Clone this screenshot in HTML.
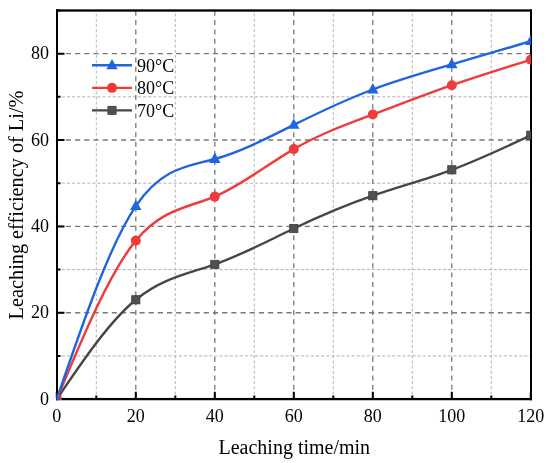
<!DOCTYPE html>
<html><head><meta charset="utf-8"><title>Leaching efficiency chart</title>
<style>html,body{margin:0;padding:0;background:#fff;width:550px;height:463px;overflow:hidden}svg{display:block}</style>
</head><body>
<svg width="550" height="463" viewBox="0 0 550 463">
<defs><clipPath id="pc"><rect x="56.8" y="10.5" width="474.1" height="389.5"/></clipPath></defs>
<rect width="550" height="463" fill="#fff"/>
<path d="M96.30,399.6V11 M175.30,399.6V11 M254.30,399.6V11 M333.30,399.6V11 M412.30,399.6V11 M491.30,399.6V11" stroke="#b4b4b4" stroke-width="1" stroke-dasharray="2.9 2.276" fill="none"/>
<path d="M56.7,355.92H530 M56.7,269.56H530 M56.7,183.20H530 M56.7,96.84H530" stroke="#b4b4b4" stroke-width="1" stroke-dasharray="3.2 1.883" fill="none"/>
<path d="M135.80,399.1V11 M214.80,399.1V11 M293.80,399.1V11 M372.80,399.1V11 M451.80,399.1V11" stroke="#787878" stroke-width="1.3" stroke-dasharray="5.0 4.35" fill="none"/>
<path d="M56.7,312.74H530 M56.7,226.38H530 M56.7,140.02H530 M56.7,53.66H530" stroke="#787878" stroke-width="1.3" stroke-dasharray="5.15 4.04" fill="none"/>
<path d="M56.80,398V391.8 M135.80,398V391.8 M214.80,398V391.8 M293.80,398V391.8 M372.80,398V391.8 M451.80,398V391.8 M530.80,398V391.8 M96.30,398V395.5 M175.30,398V395.5 M254.30,398V395.5 M333.30,398V395.5 M412.30,398V395.5 M491.30,398V395.5 M58,399.10H64.5 M58,312.74H64.5 M58,226.38H64.5 M58,140.02H64.5 M58,53.66H64.5 M58,355.92H60.5 M58,269.56H60.5 M58,183.20H60.5 M58,96.84H60.5 M58,10.48H60.5" stroke="#000" stroke-width="2" fill="none"/>
<g fill="#000"><rect x="56" y="9.35" width="476" height="2.3"/><rect x="56" y="397.95" width="476" height="2.3"/><rect x="56" y="9.35" width="2" height="390.9"/><rect x="530" y="9.35" width="2" height="390.9"/></g>
<g clip-path="url(#pc)" fill="none" stroke-width="2.4" stroke-linejoin="round">
<path d="M56.80,399.10 C83.13,360.27 109.47,321.45 135.80,299.79 C162.13,278.13 188.47,273.63 214.80,264.38 C241.13,255.13 267.47,241.11 293.80,228.54 C320.13,215.96 346.47,204.83 372.80,195.72 C399.13,186.62 425.47,179.55 451.80,169.81 C478.13,160.08 504.47,147.67 530.80,135.27" stroke="#464646"/>
<path d="M56.80,399.10 C83.13,335.90 109.47,272.70 135.80,240.63 C162.13,208.56 188.47,207.63 214.80,196.59 C241.13,185.54 267.47,164.37 293.80,149.09 C320.13,133.80 346.47,124.40 372.80,114.54 C399.13,104.69 425.47,94.40 451.80,85.18 C478.13,75.97 504.47,67.84 530.80,59.71" stroke="#ef3b3b"/>
<path d="M56.80,399.10 C83.13,322.06 109.47,245.02 135.80,206.09 C162.13,167.15 188.47,166.31 214.80,159.02 C241.13,151.73 267.47,137.98 293.80,124.91 C320.13,111.83 346.47,99.43 372.80,89.50 C399.13,79.57 425.47,72.10 451.80,64.46 C478.13,56.81 504.47,48.97 530.80,41.14" stroke="#1f64e0"/>
</g>
<g clip-path="url(#pc)">
<g fill="#505050" stroke="#3c3c3c" stroke-width="0.8"><rect x="52.70" y="395.00" width="8.2" height="8.2"/><rect x="131.70" y="295.69" width="8.2" height="8.2"/><rect x="210.70" y="260.28" width="8.2" height="8.2"/><rect x="289.70" y="224.44" width="8.2" height="8.2"/><rect x="368.70" y="191.62" width="8.2" height="8.2"/><rect x="447.70" y="165.71" width="8.2" height="8.2"/><rect x="526.70" y="131.17" width="8.2" height="8.2"/></g>
<g fill="#ef3b3b"><circle cx="56.80" cy="399.10" r="5.0"/><circle cx="135.80" cy="240.63" r="5.0"/><circle cx="214.80" cy="196.59" r="5.0"/><circle cx="293.80" cy="149.09" r="5.0"/><circle cx="372.80" cy="114.54" r="5.0"/><circle cx="451.80" cy="85.18" r="5.0"/><circle cx="530.80" cy="59.71" r="5.0"/></g>
<g fill="#1f64e0"><path d="M56.80,392.70 L62.50,403.00 L51.10,403.00 Z"/><path d="M135.80,199.69 L141.50,209.99 L130.10,209.99 Z"/><path d="M214.80,152.62 L220.50,162.92 L209.10,162.92 Z"/><path d="M293.80,118.51 L299.50,128.81 L288.10,128.81 Z"/><path d="M372.80,83.10 L378.50,93.40 L367.10,93.40 Z"/><path d="M451.80,58.06 L457.50,68.36 L446.10,68.36 Z"/><path d="M530.80,34.74 L536.50,45.04 L525.10,45.04 Z"/></g>
</g>
<g font-family="Liberation Serif, Times New Roman, serif" font-size="18" fill="#000"><text x="56.80" y="421.8" text-anchor="middle">0</text><text x="135.80" y="421.8" text-anchor="middle">20</text><text x="214.80" y="421.8" text-anchor="middle">40</text><text x="293.80" y="421.8" text-anchor="middle">60</text><text x="372.80" y="421.8" text-anchor="middle">80</text><text x="451.80" y="421.8" text-anchor="middle">100</text><text x="530.80" y="421.8" text-anchor="middle">120</text><text x="48.9" y="404.70" text-anchor="end">0</text><text x="48.9" y="318.34" text-anchor="end">20</text><text x="48.9" y="231.98" text-anchor="end">40</text><text x="48.9" y="145.62" text-anchor="end">60</text><text x="48.9" y="59.26" text-anchor="end">80</text></g>
<text font-family="Liberation Serif, Times New Roman, serif" font-size="20" x="294.3" y="453.7" text-anchor="middle">Leaching time/min</text>
<text font-family="Liberation Serif, Times New Roman, serif" font-size="20.3" transform="translate(22.5,205) rotate(-90)" text-anchor="middle">Leaching efficiency of Li/%</text>
<path d="M92,65.3H132" stroke="#1f64e0" stroke-width="2.4"/>
<g fill="#1f64e0"><path d="M112.00,58.90 L117.70,69.20 L106.30,69.20 Z"/></g>
<text font-family="Liberation Serif, Times New Roman, serif" font-size="18" x="137.1" y="71.90">90°C</text>
<path d="M92,87.85H132" stroke="#ef3b3b" stroke-width="2.4"/>
<g fill="#ef3b3b"><circle cx="112.00" cy="87.85" r="5.0"/></g>
<text font-family="Liberation Serif, Times New Roman, serif" font-size="18" x="137.1" y="94.45">80°C</text>
<path d="M92,110.4H132" stroke="#464646" stroke-width="2.4"/>
<g fill="#505050" stroke="#3c3c3c" stroke-width="0.8"><rect x="107.90" y="106.30" width="8.2" height="8.2"/></g>
<text font-family="Liberation Serif, Times New Roman, serif" font-size="18" x="137.1" y="117.00">70°C</text>
</svg>
</body></html>
